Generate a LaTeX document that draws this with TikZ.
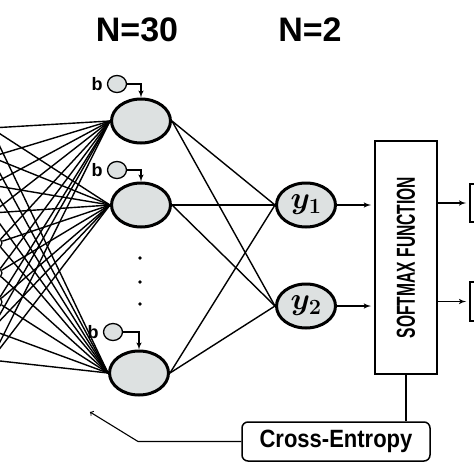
\RequirePackage{fix-cm}
\documentclass[tikz,border=0pt]{standalone}
\usepackage{fontspec}
\setmainfont{Liberation Sans}
\newfontfamily\narrowfont{Liberation Sans}[FakeStretch=0.6]
\newfontfamily\lossfont{Liberation Sans}[FakeStretch=0.88]
\definecolor{cellgray}{RGB}{221, 225, 225}
\usetikzlibrary{arrows}
\usetikzlibrary{calc}
\usetikzlibrary{positioning}
\usetikzlibrary{shapes}
\tikzset{
    arrow/.style={-latex', shorten >=3pt, line width=1.5pt},
    feedback/.style={->, >=to, line width=1.1pt},
    link/.style={line width=1.4pt},
    neuron/.style = {
      ellipse,
      draw,
      line width=3pt,
      fill=cellgray,
      minimum width=59pt,
      minimum height=44pt,
      inner sep=0pt
    },
    innode/.style = {
      circle,
      draw,
      line width=1.3pt,
      fill=white,
      minimum size=10pt,
      inner sep=0pt
    },
    bias/.style = {
      ellipse,
      draw,
      line width=1.3pt,
      fill=cellgray,
      minimum width=19pt,
      minimum height=17pt,
      inner sep=0pt
    },
    box/.style = {
      rectangle,
      draw,
      line width=2pt
    },
}

\begin{document}
\begin{tikzpicture}[x=1pt, y=-1pt]
      \useasboundingbox (0,0) rectangle (474,474);
      \clip (0,0) rectangle (474,474);

      \node [font=\bfseries\fontsize{34}{40}\selectfont] (hiddentitle) at (137,30) {N=30};
      \node [font=\bfseries\fontsize{34}{40}\selectfont] (outputtitle) at (310,30) {N=2};

      % hidden layer
      \node [neuron] (h1) at (141,121) {};
      \node [neuron] (h2) at (141,205) {};
      \node [neuron] (h3) at (139,373) {};

      % output layer
      \node [neuron, font=\boldmath\fontsize{31}{34}\selectfont] (y1) at (306,205) {$y_1$};
      \node [neuron, font=\boldmath\fontsize{31}{34}\selectfont] (y2) at (306,306) {$y_2$};

      % inputs, mostly outside the frame
      \foreach \i/\x/\y in {1/-9/128, 2/-9/157, 3/-9/185, 4/-8/213, 5/-3/243,
                            6/-3/273, 7/-3/302, 8/-9/330, 9/-9/360} {
        \node [innode] (x\i) at (\x,\y) {};
      }
      \foreach \i in {1,...,9}
        \foreach \h in {1,2,3}
          \draw [link] (x\i) -- (h\h.west);

      \foreach \h in {1,2,3}
        \foreach \o in {1,2}
          \draw [link] (h\h.east) -- (y\o.west);

      % bias units
      \foreach \h/\dx/\dy in {1/-24/-37, 2/-24/-35, 3/-26/-41} {
        \node [bias] (b\h) at ($(h\h)+(\dx,\dy)$) {};
        \node [font=\bfseries\fontsize{18}{20}\selectfont, inner sep=0pt, left=4pt of b\h] (bl\h) {b};
        \draw [-latex', line width=1.4pt] (b\h.east) -| (h\h.north);
      }

      \foreach \y in {258,282,304}
        \fill (140,\y) circle (1.8pt);

      \node [
        box,
        minimum width=62pt,
        minimum height=233pt,
        font=\narrowfont\bfseries\fontsize{26}{30}\selectfont
      ] (softmax) at (406,257.5) {\rotatebox{90}{SOFTMAX FUNCTION}};

      \draw [arrow] (y1.east) -- (y1.east -| softmax.west);
      \draw [arrow] (y2.east) -- (y2.east -| softmax.west);

      \node [box, line width=1.6pt, minimum width=40pt, minimum height=38pt] (r1) at (490,203) {};
      \node [box, line width=1.6pt, minimum width=40pt, minimum height=39pt] (r2) at (490,301.5) {};

      \draw [arrow] (softmax.east |- r1.west) -- (r1.west);
      \draw [arrow] (softmax.east |- r2.west) -- (r2.west);

      \node [
        box,
        rounded corners=6pt,
        line width=1.5pt,
        minimum width=188pt,
        minimum height=39pt,
        font=\lossfont\bfseries\fontsize{25}{30}\selectfont
      ] (loss) at (336,441.5) {Cross-Entropy};

      \draw [line width=1.5pt] (softmax.south) -- (softmax.south |- loss.north);

      \coordinate (bend) at (138,441.5);
      \coordinate (back) at (90,412);
      \draw [feedback] (loss.west) -- (bend) -- (back);
\end{tikzpicture}
\end{document}
